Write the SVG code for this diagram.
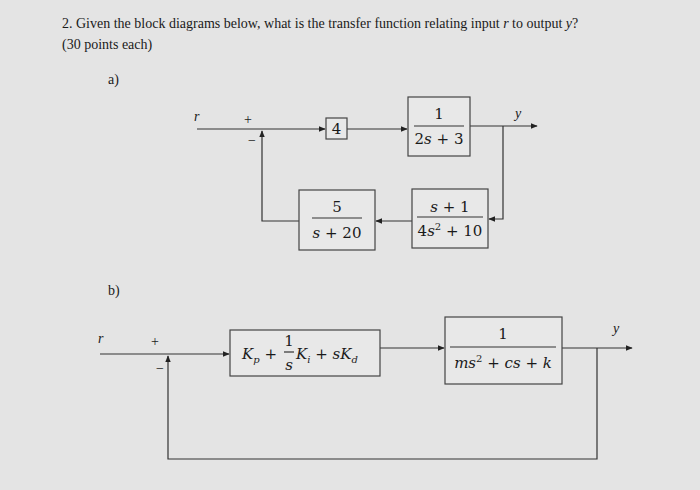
<svg xmlns="http://www.w3.org/2000/svg" width="700" height="490" viewBox="0 0 700 490">
<defs>
<marker id="ah" viewBox="0 0 10 10" refX="9" refY="5" markerWidth="6" markerHeight="6" orient="auto"><path d="M0,1 L10,5 L0,9 z" fill="#222"/></marker>
<style>
text{font-family:"Liberation Serif",serif;fill:#1a1a1a}
.t{font-size:14px}
.m{font-size:15px;font-family:"DejaVu Serif","Liberation Serif",serif}
.i{font-style:italic}
.box{fill:#e8e8e8;stroke:#444;stroke-width:1.2}
.ln{fill:none;stroke:#333;stroke-width:1.2}
</style>
</defs>
<rect width="700" height="490" fill="#e4e4e4"/>
<text class="t" x="62" y="28">2. Given the block diagrams below, what is the transfer function relating input <tspan class="i">r</tspan> to output <tspan class="i">y</tspan>?</text>
<text class="t" x="62" y="49">(30 points each)</text>
<text class="t" x="108" y="84">a)</text>
<text class="t" x="108" y="295">b)</text>
<g id="connectors">
<path class="ln" d="M197,129 L325,129" marker-end="url(#ah)"/>
<path class="ln" d="M347,129 L407,129" marker-end="url(#ah)"/>
<path class="ln" d="M470,126 L537,126" marker-end="url(#ah)"/>
<path class="ln" d="M503,126 L503,219 L489,219" marker-end="url(#ah)"/>
<path class="ln" d="M412,221 L376,221" marker-end="url(#ah)"/>
<path class="ln" d="M299,221 L262,221 L262,131" marker-end="url(#ah)"/>
<path class="ln" d="M100,354 L229,354" marker-end="url(#ah)"/>
<path class="ln" d="M380,348 L444,348" marker-end="url(#ah)"/>
<path class="ln" d="M562,348 L632,348" marker-end="url(#ah)"/>
<path class="ln" d="M597,348 L597,459 L168,459 L168,356" marker-end="url(#ah)"/>
</g>
<g id="labels">
<text class="t i" x="194" y="121">r</text>
<text class="t" x="244" y="124">+</text>
<text class="t" x="248" y="145">−</text>
<text class="t i" x="515" y="118">y</text>
<text class="t i" x="98" y="343">r</text>
<text class="t" x="151" y="346">+</text>
<text class="t" x="156" y="373">−</text>
<text class="t i" x="613" y="333">y</text>
</g>
<g id="k4"><rect class="box" x="326" y="118" width="21" height="21"/><text class="m" x="336.5" y="134" text-anchor="middle">4</text></g>
<g id="g1"><rect class="box" x="408" y="97" width="62" height="59"/><text class="m" x="439" y="119" text-anchor="middle">1</text><line class="ln" x1="414" y1="126" x2="464" y2="126"/><text class="m" x="439" y="144" text-anchor="middle">2<tspan class="i">s</tspan> + 3</text></g>
<g id="h1"><rect class="box" x="412" y="189" width="76" height="59"/><text class="m" x="450" y="212" text-anchor="middle"><tspan class="i">s</tspan> + 1</text><line class="ln" x1="417" y1="217" x2="483" y2="217"/><text class="m" x="450" y="236" text-anchor="middle">4<tspan class="i">s</tspan><tspan font-size="10" dy="-6">2</tspan><tspan dy="6"> + 10</tspan></text></g>
<g id="h2"><rect class="box" x="299" y="190" width="76" height="60"/><text class="m" x="337" y="212" text-anchor="middle">5</text><line class="ln" x1="312" y1="218" x2="362" y2="218"/><text class="m" x="337" y="238" text-anchor="middle"><tspan class="i">s</tspan> + 20</text></g>
<g id="pid"><rect class="box" x="230" y="330" width="150" height="46"/><text class="m" x="242" y="359"><tspan class="i">K</tspan><tspan font-size="10" class="i" dy="4">p</tspan><tspan dy="-4"> + </tspan></text><text class="m" x="289" y="346" text-anchor="middle">1</text><line class="ln" x1="284" y1="352" x2="294" y2="352"/><text class="m i" x="289" y="370" text-anchor="middle">s</text><text class="m" x="296" y="359"><tspan class="i">K</tspan><tspan font-size="10" class="i" dy="4">i</tspan><tspan dy="-4"> + </tspan><tspan class="i">sK</tspan><tspan font-size="10" class="i" dy="4">d</tspan></text></g>
<g id="plant"><rect class="box" x="445" y="317" width="117" height="67"/><text class="m" x="503" y="339" text-anchor="middle">1</text><line class="ln" x1="450" y1="347" x2="556" y2="347"/><text class="m" x="503" y="368" text-anchor="middle"><tspan class="i">ms</tspan><tspan font-size="10" dy="-6">2</tspan><tspan dy="6"> + </tspan><tspan class="i">cs</tspan> + <tspan class="i">k</tspan></text></g>
</svg>
